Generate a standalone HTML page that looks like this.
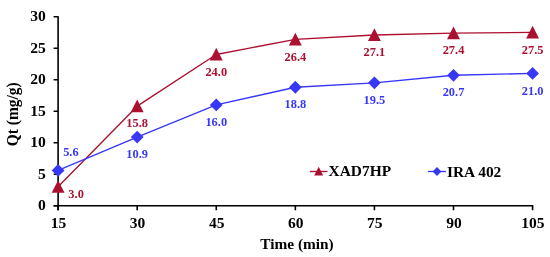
<!DOCTYPE html><html><head><meta charset="utf-8"><title>chart</title><style>html,body{margin:0;padding:0;background:#fff}body{width:550px;height:257px;overflow:hidden}</style></head><body><svg width="550" height="257" viewBox="0 0 550 257" style="display:block"><rect width="550" height="257" fill="#fff"/><g font-family="'Liberation Serif', serif" font-weight="bold"><path d="M58.1 16.2V210.2M53.6 205.7H533.2800000000001" stroke="#000" stroke-width="1.6" fill="none"/><path d="M53.6 205.70H58.1M53.6 174.20H58.1M53.6 142.70H58.1M53.6 111.20H58.1M53.6 79.70H58.1M53.6 48.20H58.1M53.6 16.70H58.1M58.10 205.7V210.2M137.18 205.7V210.2M216.26 205.7V210.2M295.34 205.7V210.2M374.42 205.7V210.2M453.50 205.7V210.2M532.58 205.7V210.2" stroke="#000" stroke-width="1.6" fill="none"/><text x="45.8" y="210.10" font-size="15.6" text-anchor="end" fill="#000">0</text><text x="45.8" y="178.60" font-size="15.6" text-anchor="end" fill="#000">5</text><text x="45.8" y="147.10" font-size="15.6" text-anchor="end" fill="#000">10</text><text x="45.8" y="115.60" font-size="15.6" text-anchor="end" fill="#000">15</text><text x="45.8" y="84.10" font-size="15.6" text-anchor="end" fill="#000">20</text><text x="45.8" y="52.60" font-size="15.6" text-anchor="end" fill="#000">25</text><text x="45.8" y="21.10" font-size="15.6" text-anchor="end" fill="#000">30</text><text x="58.50" y="227.7" font-size="15.5" text-anchor="middle" fill="#000">15</text><text x="137.58" y="227.7" font-size="15.5" text-anchor="middle" fill="#000">30</text><text x="216.66" y="227.7" font-size="15.5" text-anchor="middle" fill="#000">45</text><text x="295.74" y="227.7" font-size="15.5" text-anchor="middle" fill="#000">60</text><text x="374.82" y="227.7" font-size="15.5" text-anchor="middle" fill="#000">75</text><text x="453.90" y="227.7" font-size="15.5" text-anchor="middle" fill="#000">90</text><text x="532.98" y="227.7" font-size="15.5" text-anchor="middle" fill="#000">105</text><text x="297" y="248.6" font-size="15.35" text-anchor="middle" fill="#000">Time (min)</text><text transform="translate(18,114.3) rotate(-90) scale(1,1.1)" font-size="15.5" text-anchor="middle" fill="#000">Qt (mg/g)</text><polyline points="58.10,186.80 137.18,106.16 216.26,54.50 295.34,39.38 374.42,34.97 453.50,33.08 532.58,32.45" fill="none" stroke="#AB1030" stroke-width="1.35" stroke-linejoin="round"/><polyline points="58.10,170.42 137.18,137.03 216.26,104.90 295.34,87.26 374.42,82.85 453.50,75.29 532.58,73.40" fill="none" stroke="#3737F5" stroke-width="1.35" stroke-linejoin="round"/><path d="M58.10 180.16L64.55 192.86H51.65Z" fill="#AB1030"/><path d="M137.18 99.52L143.63 112.22H130.73Z" fill="#AB1030"/><path d="M216.26 47.86L222.71 60.56H209.81Z" fill="#AB1030"/><path d="M295.34 32.74L301.79 45.44H288.89Z" fill="#AB1030"/><path d="M374.42 28.33L380.87 41.03H367.97Z" fill="#AB1030"/><path d="M453.50 26.44L459.95 39.14H447.05Z" fill="#AB1030"/><path d="M532.58 25.81L539.03 38.51H526.13Z" fill="#AB1030"/><path d="M58.10 164.02L64.50 170.42L58.10 176.82L51.70 170.42Z" fill="#3737F5"/><path d="M137.18 130.63L143.58 137.03L137.18 143.43L130.78 137.03Z" fill="#3737F5"/><path d="M216.26 98.50L222.66 104.90L216.26 111.30L209.86 104.90Z" fill="#3737F5"/><path d="M295.34 80.86L301.74 87.26L295.34 93.66L288.94 87.26Z" fill="#3737F5"/><path d="M374.42 76.45L380.82 82.85L374.42 89.25L368.02 82.85Z" fill="#3737F5"/><path d="M453.50 68.89L459.90 75.29L453.50 81.69L447.10 75.29Z" fill="#3737F5"/><path d="M532.58 67.00L538.98 73.40L532.58 79.80L526.18 73.40Z" fill="#3737F5"/><text x="76.1" y="198.10" font-size="12.4" text-anchor="middle" fill="#AB1030">3.0</text><text x="137.18" y="127.36" font-size="12.4" text-anchor="middle" fill="#AB1030">15.8</text><text x="216.26" y="75.70" font-size="12.4" text-anchor="middle" fill="#AB1030">24.0</text><text x="295.34000000000003" y="60.58" font-size="12.4" text-anchor="middle" fill="#AB1030">26.4</text><text x="374.42" y="56.17" font-size="12.4" text-anchor="middle" fill="#AB1030">27.1</text><text x="453.5" y="54.28" font-size="12.4" text-anchor="middle" fill="#AB1030">27.4</text><text x="532.58" y="53.65" font-size="12.4" text-anchor="middle" fill="#AB1030">27.5</text><text x="70.9" y="155.72" font-size="12.4" text-anchor="middle" fill="#3737F5">5.6</text><text x="137.18" y="158.23" font-size="12.4" text-anchor="middle" fill="#3737F5">10.9</text><text x="216.26" y="126.10" font-size="12.4" text-anchor="middle" fill="#3737F5">16.0</text><text x="295.34000000000003" y="108.46" font-size="12.4" text-anchor="middle" fill="#3737F5">18.8</text><text x="374.42" y="104.05" font-size="12.4" text-anchor="middle" fill="#3737F5">19.5</text><text x="453.5" y="96.49" font-size="12.4" text-anchor="middle" fill="#3737F5">20.7</text><text x="532.58" y="94.60" font-size="12.4" text-anchor="middle" fill="#3737F5">21.0</text><path d="M310 171.5H327.5" stroke="#AB1030" stroke-width="1.35"/><path d="M318.70 166.67L323.20 175.53H314.20Z" fill="#AB1030"/><text x="328.5" y="176.3" font-size="15.45" fill="#000">XAD7HP</text><path d="M428 171.5H446" stroke="#3737F5" stroke-width="1.35"/><path d="M437.00 167.10L441.40 171.50L437.00 175.90L432.60 171.50Z" fill="#3737F5"/><text x="447" y="176.5" font-size="15.4" fill="#000">IRA 402</text></g></svg></body></html>
